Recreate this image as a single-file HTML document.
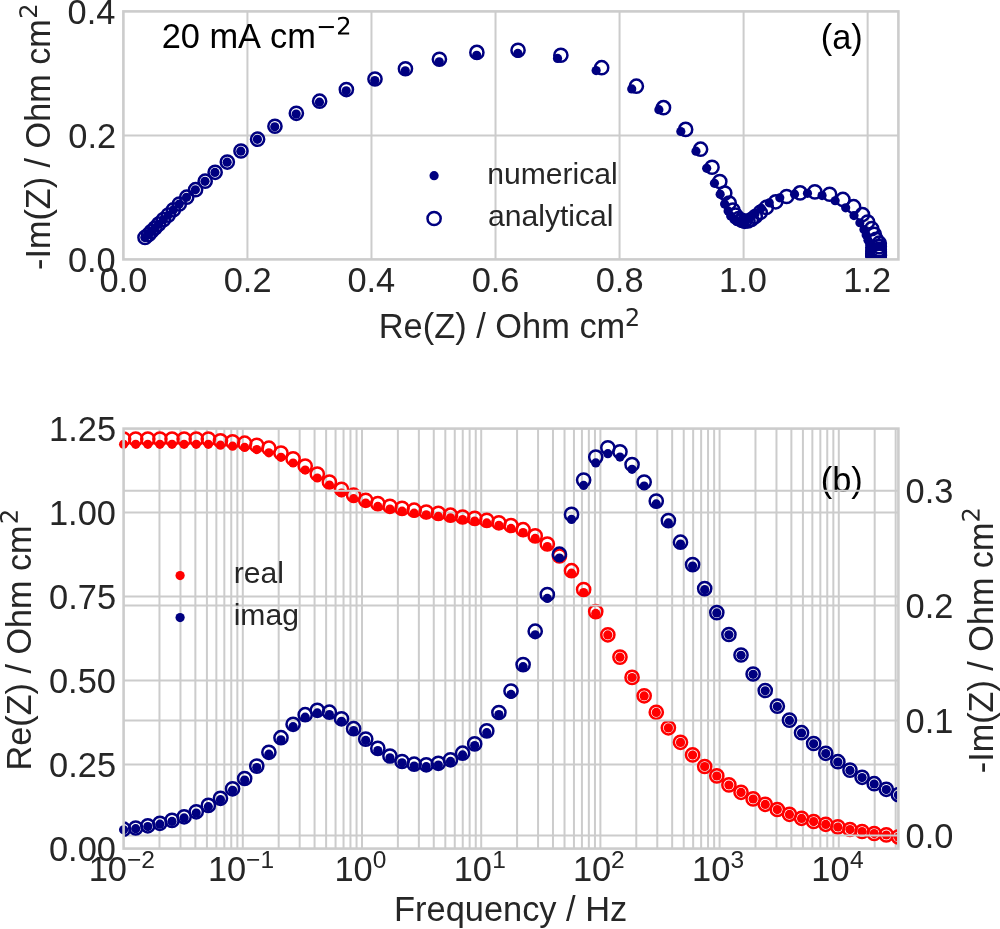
<!DOCTYPE html>
<html><head><meta charset="utf-8"><style>
html,body{margin:0;padding:0;background:#fff;width:1000px;height:929px;overflow:hidden;position:relative}
#wrap{position:absolute;left:0;top:0;width:1000px;height:929px;will-change:transform}
</style></head><body>
<div id="wrap">
<svg width="1000" height="929" viewBox="0 0 1000 929" style="position:absolute;left:0;top:0">
<defs>
<clipPath id="ca"><rect x="123.4" y="11.4" width="775.0" height="247.99999999999997"/></clipPath>
<clipPath id="cbc"><rect x="123.6" y="428.6" width="773.8" height="420.0"/></clipPath>
<clipPath id="cbd"><rect x="100" y="428.6" width="797.4" height="420.0"/></clipPath>
</defs>
<path d="M247.44 11.4V259.4M371.48 11.4V259.4M495.52 11.4V259.4M619.56 11.4V259.4M743.60 11.4V259.4M867.64 11.4V259.4M123.4 135.40H898.4" stroke="#cccccc" stroke-width="2.0" fill="none"/>
<g clip-path="url(#ca)">
<g fill="none" stroke="#000080" stroke-width="2.5">
<circle cx="879.27" cy="256.05" r="6.6"/>
<circle cx="879.27" cy="255.41" r="6.6"/>
<circle cx="879.27" cy="254.22" r="6.6"/>
<circle cx="879.27" cy="252.87" r="6.6"/>
<circle cx="879.27" cy="251.31" r="6.6"/>
<circle cx="879.27" cy="249.36" r="6.6"/>
<circle cx="879.27" cy="246.67" r="6.6"/>
<circle cx="879.27" cy="243.21" r="6.6"/>
<circle cx="876.13" cy="239.38" r="6.6"/>
<circle cx="874.29" cy="234.25" r="6.6"/>
<circle cx="871.70" cy="228.70" r="6.6"/>
<circle cx="867.64" cy="222.01" r="6.6"/>
<circle cx="862.47" cy="214.56" r="6.6"/>
<circle cx="853.61" cy="206.68" r="6.6"/>
<circle cx="842.91" cy="199.45" r="6.6"/>
<circle cx="829.62" cy="194.27" r="6.6"/>
<circle cx="814.85" cy="191.90" r="6.6"/>
<circle cx="800.08" cy="192.92" r="6.6"/>
<circle cx="786.61" cy="196.48" r="6.6"/>
<circle cx="775.72" cy="201.82" r="6.6"/>
<circle cx="766.30" cy="207.44" r="6.6"/>
<circle cx="760.21" cy="212.45" r="6.6"/>
<circle cx="755.23" cy="216.56" r="6.6"/>
<circle cx="751.35" cy="219.52" r="6.6"/>
<circle cx="748.03" cy="220.98" r="6.6"/>
<circle cx="744.71" cy="221.30" r="6.6"/>
<circle cx="742.12" cy="220.49" r="6.6"/>
<circle cx="738.80" cy="218.61" r="6.6"/>
<circle cx="735.48" cy="215.04" r="6.6"/>
<circle cx="732.89" cy="210.03" r="6.6"/>
<circle cx="729.20" cy="203.01" r="6.6"/>
<circle cx="724.77" cy="193.08" r="6.6"/>
<circle cx="719.79" cy="181.48" r="6.6"/>
<circle cx="712.04" cy="167.24" r="6.6"/>
<circle cx="700.59" cy="149.21" r="6.6"/>
<circle cx="685.64" cy="129.41" r="6.6"/>
<circle cx="663.49" cy="107.66" r="6.6"/>
<circle cx="636.36" cy="86.19" r="6.6"/>
<circle cx="601.66" cy="67.68" r="6.6"/>
<circle cx="560.86" cy="55.27" r="6.6"/>
<circle cx="518.04" cy="50.25" r="6.6"/>
<circle cx="476.88" cy="52.41" r="6.6"/>
<circle cx="439.41" cy="59.26" r="6.6"/>
<circle cx="405.44" cy="68.76" r="6.6"/>
<circle cx="374.99" cy="79.01" r="6.6"/>
<circle cx="346.38" cy="89.53" r="6.6"/>
<circle cx="319.61" cy="101.19" r="6.6"/>
<circle cx="296.35" cy="113.28" r="6.6"/>
<circle cx="274.94" cy="126.23" r="6.6"/>
<circle cx="257.59" cy="139.18" r="6.6"/>
<circle cx="240.98" cy="150.99" r="6.6"/>
<circle cx="227.32" cy="162.06" r="6.6"/>
<circle cx="215.14" cy="172.31" r="6.6"/>
<circle cx="205.17" cy="181.21" r="6.6"/>
<circle cx="195.57" cy="189.68" r="6.6"/>
<circle cx="186.71" cy="197.18" r="6.6"/>
<circle cx="179.33" cy="203.98" r="6.6"/>
<circle cx="173.42" cy="209.81" r="6.6"/>
<circle cx="168.25" cy="215.10" r="6.6"/>
<circle cx="163.45" cy="219.63" r="6.6"/>
<circle cx="158.66" cy="224.16" r="6.6"/>
<circle cx="154.96" cy="228.05" r="6.6"/>
<circle cx="151.27" cy="231.50" r="6.6"/>
<circle cx="148.69" cy="234.52" r="6.6"/>
<circle cx="145.00" cy="237.44" r="6.6"/>
</g>
<g fill="#000080">
<circle cx="869.67" cy="256.38" r="4.6"/>
<circle cx="869.67" cy="255.78" r="4.6"/>
<circle cx="869.67" cy="254.65" r="4.6"/>
<circle cx="869.67" cy="253.36" r="4.6"/>
<circle cx="869.67" cy="251.85" r="4.6"/>
<circle cx="869.67" cy="249.96" r="4.6"/>
<circle cx="869.67" cy="247.31" r="4.6"/>
<circle cx="869.67" cy="243.91" r="4.6"/>
<circle cx="868.01" cy="240.14" r="4.6"/>
<circle cx="866.16" cy="235.06" r="4.6"/>
<circle cx="863.95" cy="229.56" r="4.6"/>
<circle cx="859.89" cy="222.76" r="4.6"/>
<circle cx="853.98" cy="215.58" r="4.6"/>
<circle cx="845.67" cy="207.81" r="4.6"/>
<circle cx="835.15" cy="200.75" r="4.6"/>
<circle cx="822.05" cy="195.62" r="4.6"/>
<circle cx="807.47" cy="193.30" r="4.6"/>
<circle cx="794.55" cy="194.22" r="4.6"/>
<circle cx="779.78" cy="197.83" r="4.6"/>
<circle cx="769.26" cy="202.80" r="4.6"/>
<circle cx="761.14" cy="208.14" r="4.6"/>
<circle cx="755.04" cy="213.64" r="4.6"/>
<circle cx="750.25" cy="217.53" r="4.6"/>
<circle cx="746.18" cy="220.23" r="4.6"/>
<circle cx="742.49" cy="221.95" r="4.6"/>
<circle cx="739.54" cy="222.33" r="4.6"/>
<circle cx="736.59" cy="221.41" r="4.6"/>
<circle cx="734.00" cy="219.47" r="4.6"/>
<circle cx="730.68" cy="215.96" r="4.6"/>
<circle cx="728.10" cy="210.89" r="4.6"/>
<circle cx="724.59" cy="203.98" r="4.6"/>
<circle cx="720.16" cy="194.16" r="4.6"/>
<circle cx="714.44" cy="183.32" r="4.6"/>
<circle cx="706.68" cy="168.37" r="4.6"/>
<circle cx="695.98" cy="151.16" r="4.6"/>
<circle cx="680.84" cy="131.51" r="4.6"/>
<circle cx="658.88" cy="109.72" r="4.6"/>
<circle cx="631.74" cy="88.89" r="4.6"/>
<circle cx="596.12" cy="70.54" r="4.6"/>
<circle cx="557.54" cy="58.40" r="4.6"/>
<circle cx="517.85" cy="53.43" r="4.6"/>
<circle cx="476.69" cy="55.27" r="4.6"/>
<circle cx="439.22" cy="61.85" r="4.6"/>
<circle cx="405.26" cy="70.86" r="4.6"/>
<circle cx="374.80" cy="80.52" r="4.6"/>
<circle cx="346.19" cy="90.78" r="4.6"/>
<circle cx="319.43" cy="102.16" r="4.6"/>
<circle cx="296.17" cy="114.03" r="4.6"/>
<circle cx="274.76" cy="126.82" r="4.6"/>
<circle cx="257.41" cy="139.34" r="4.6"/>
<circle cx="240.80" cy="151.16" r="4.6"/>
<circle cx="227.14" cy="162.22" r="4.6"/>
<circle cx="214.95" cy="172.47" r="4.6"/>
<circle cx="204.99" cy="181.37" r="4.6"/>
<circle cx="195.39" cy="189.85" r="4.6"/>
<circle cx="186.53" cy="197.35" r="4.6"/>
<circle cx="179.14" cy="204.14" r="4.6"/>
<circle cx="173.24" cy="209.97" r="4.6"/>
<circle cx="168.07" cy="215.26" r="4.6"/>
<circle cx="163.27" cy="219.79" r="4.6"/>
<circle cx="158.47" cy="224.33" r="4.6"/>
<circle cx="154.78" cy="228.21" r="4.6"/>
<circle cx="151.09" cy="231.66" r="4.6"/>
<circle cx="148.50" cy="234.69" r="4.6"/>
<circle cx="144.81" cy="237.60" r="4.6"/>
</g></g>
<rect x="123.4" y="11.4" width="775.0" height="247.99999999999997" fill="none" stroke="#cccccc" stroke-width="2.6"/>
<g font-family='"Liberation Sans", sans-serif'>
<text x="99.49" y="291.60" font-size="34.4" fill="#262626">0.0</text>
<text x="223.72" y="291.60" font-size="34.4" fill="#262626">0.2</text>
<text x="347.40" y="291.60" font-size="34.4" fill="#262626">0.4</text>
<text x="471.69" y="291.60" font-size="34.4" fill="#262626">0.6</text>
<text x="595.73" y="291.60" font-size="34.4" fill="#262626">0.8</text>
<text x="719.05" y="291.60" font-size="34.4" fill="#262626">1.0</text>
<text x="843.28" y="291.60" font-size="34.4" fill="#262626">1.2</text>
<text x="67.92" y="272.20" font-size="34.4" fill="#262626">0.0</text>
<text x="68.31" y="148.20" font-size="34.4" fill="#262626">0.2</text>
<text x="67.59" y="24.20" font-size="34.4" fill="#262626">0.4</text>
<text x="378.78" y="338.30" font-size="34.4" fill="#262626" >Re(Z) / Ohm cm</text>
<path d="M393 170H1098V0H150V170Q265 289 463.5 489.5Q662 690 713 748Q810 857 848.5 932.5Q887 1008 887 1081Q887 1200 803.5 1275.0Q720 1350 586 1350Q491 1350 385.5 1317.0Q280 1284 160 1217V1421Q282 1470 388.0 1495.0Q494 1520 582 1520Q814 1520 952.0 1404.0Q1090 1288 1090 1094Q1090 1002 1055.5 919.5Q1021 837 930 725Q905 696 771.0 557.5Q637 419 393 170Z" transform="translate(624.835,325.900) scale(0.01177,-0.01177)" fill="#262626"/>
<text transform="translate(49.90,269.92) rotate(-90)" font-size="34.2" fill="#262626">-Im(Z) / Ohm cm</text>
<path d="M393 170H1098V0H150V170Q265 289 463.5 489.5Q662 690 713 748Q810 857 848.5 932.5Q887 1008 887 1081Q887 1200 803.5 1275.0Q720 1350 586 1350Q491 1350 385.5 1317.0Q280 1284 160 1217V1421Q282 1470 388.0 1495.0Q494 1520 582 1520Q814 1520 952.0 1404.0Q1090 1288 1090 1094Q1090 1002 1055.5 919.5Q1021 837 930 725Q905 696 771.0 557.5Q637 419 393 170Z" transform="translate(37.000,18.765) rotate(-90) scale(0.01177,-0.01177)" fill="#262626"/>
<text x="161.67" y="47.80" font-size="34.4" fill="#000" >20 mA</text>
<text x="270.04" y="47.80" font-size="34.4" fill="#000" >cm</text>
<path d="M217 727H1499V557H217Z" transform="translate(316.246,34.600) scale(0.01177,-0.01177)" fill="#000"/>
<path d="M393 170H1098V0H150V170Q265 289 463.5 489.5Q662 690 713 748Q810 857 848.5 932.5Q887 1008 887 1081Q887 1200 803.5 1275.0Q720 1350 586 1350Q491 1350 385.5 1317.0Q280 1284 160 1217V1421Q282 1470 388.0 1495.0Q494 1520 582 1520Q814 1520 952.0 1404.0Q1090 1288 1090 1094Q1090 1002 1055.5 919.5Q1021 837 930 725Q905 696 771.0 557.5Q637 419 393 170Z" transform="translate(336.235,34.600) scale(0.01177,-0.01177)" fill="#000"/>
<text x="820.77" y="48.70" font-size="34.4" fill="#000" >(a)</text>
<circle cx="434.1" cy="175.7" r="4.6" fill="#000080"/>
<circle cx="434.1" cy="218.5" r="6.6" fill="#fff" stroke="#000080" stroke-width="2.5"/>
<text x="487.30" y="183.60" font-size="30.1" fill="#262626" >numerical</text>
<text x="488.02" y="225.60" font-size="30.1" fill="#262626" >analytical</text>
</g>
<path d="M159.48 428.6V848.6M180.47 428.6V848.6M195.37 428.6V848.6M206.92 428.6V848.6M216.36 428.6V848.6M224.34 428.6V848.6M231.25 428.6V848.6M237.35 428.6V848.6M242.80 428.6V848.6M278.68 428.6V848.6M299.67 428.6V848.6M314.57 428.6V848.6M326.12 428.6V848.6M335.56 428.6V848.6M343.54 428.6V848.6M350.45 428.6V848.6M356.55 428.6V848.6M362.00 428.6V848.6M397.88 428.6V848.6M418.87 428.6V848.6M433.77 428.6V848.6M445.32 428.6V848.6M454.76 428.6V848.6M462.74 428.6V848.6M469.65 428.6V848.6M475.75 428.6V848.6M481.20 428.6V848.6M517.08 428.6V848.6M538.07 428.6V848.6M552.97 428.6V848.6M564.52 428.6V848.6M573.96 428.6V848.6M581.94 428.6V848.6M588.85 428.6V848.6M594.95 428.6V848.6M600.40 428.6V848.6M636.28 428.6V848.6M657.27 428.6V848.6M672.17 428.6V848.6M683.72 428.6V848.6M693.16 428.6V848.6M701.14 428.6V848.6M708.05 428.6V848.6M714.15 428.6V848.6M719.60 428.6V848.6M755.48 428.6V848.6M776.47 428.6V848.6M791.37 428.6V848.6M802.92 428.6V848.6M812.36 428.6V848.6M820.34 428.6V848.6M827.25 428.6V848.6M833.35 428.6V848.6M838.80 428.6V848.6M874.68 428.6V848.6M895.67 428.6V848.6M123.6 764.60H898.4M123.6 680.60H898.4M123.6 596.60H898.4M123.6 512.60H898.4" stroke="#cccccc" stroke-width="2.0" fill="none"/>
<g clip-path="url(#cbc)" fill="none" stroke="#ff0000" stroke-width="2.5">
<circle cx="123.60" cy="439.10" r="6.6"/>
<circle cx="135.71" cy="439.10" r="6.6"/>
<circle cx="147.81" cy="439.10" r="6.6"/>
<circle cx="159.92" cy="439.10" r="6.6"/>
<circle cx="172.02" cy="439.10" r="6.6"/>
<circle cx="184.13" cy="439.10" r="6.6"/>
<circle cx="196.24" cy="439.10" r="6.6"/>
<circle cx="208.34" cy="439.10" r="6.6"/>
<circle cx="220.45" cy="440.80" r="6.6"/>
<circle cx="232.56" cy="441.80" r="6.6"/>
<circle cx="244.66" cy="443.20" r="6.6"/>
<circle cx="256.77" cy="445.40" r="6.6"/>
<circle cx="268.88" cy="448.20" r="6.6"/>
<circle cx="280.98" cy="453.00" r="6.6"/>
<circle cx="293.09" cy="458.80" r="6.6"/>
<circle cx="305.19" cy="466.00" r="6.6"/>
<circle cx="317.30" cy="474.00" r="6.6"/>
<circle cx="329.41" cy="482.00" r="6.6"/>
<circle cx="341.51" cy="489.30" r="6.6"/>
<circle cx="353.62" cy="495.20" r="6.6"/>
<circle cx="365.72" cy="500.30" r="6.6"/>
<circle cx="377.83" cy="503.60" r="6.6"/>
<circle cx="389.94" cy="506.30" r="6.6"/>
<circle cx="402.04" cy="508.40" r="6.6"/>
<circle cx="414.15" cy="510.20" r="6.6"/>
<circle cx="426.26" cy="512.00" r="6.6"/>
<circle cx="438.36" cy="513.40" r="6.6"/>
<circle cx="450.47" cy="515.20" r="6.6"/>
<circle cx="462.57" cy="517.00" r="6.6"/>
<circle cx="474.68" cy="518.40" r="6.6"/>
<circle cx="486.79" cy="520.40" r="6.6"/>
<circle cx="498.89" cy="522.80" r="6.6"/>
<circle cx="511.00" cy="525.50" r="6.6"/>
<circle cx="523.11" cy="529.70" r="6.6"/>
<circle cx="535.21" cy="535.90" r="6.6"/>
<circle cx="547.32" cy="544.00" r="6.6"/>
<circle cx="559.42" cy="556.00" r="6.6"/>
<circle cx="571.53" cy="570.70" r="6.6"/>
<circle cx="583.64" cy="589.50" r="6.6"/>
<circle cx="595.74" cy="611.60" r="6.6"/>
<circle cx="607.85" cy="634.80" r="6.6"/>
<circle cx="619.96" cy="657.10" r="6.6"/>
<circle cx="632.06" cy="677.40" r="6.6"/>
<circle cx="644.17" cy="695.80" r="6.6"/>
<circle cx="656.27" cy="712.30" r="6.6"/>
<circle cx="668.38" cy="727.80" r="6.6"/>
<circle cx="680.49" cy="742.30" r="6.6"/>
<circle cx="692.59" cy="754.90" r="6.6"/>
<circle cx="704.70" cy="766.50" r="6.6"/>
<circle cx="716.81" cy="775.90" r="6.6"/>
<circle cx="728.91" cy="784.90" r="6.6"/>
<circle cx="741.02" cy="792.30" r="6.6"/>
<circle cx="753.12" cy="798.90" r="6.6"/>
<circle cx="765.23" cy="804.30" r="6.6"/>
<circle cx="777.34" cy="809.50" r="6.6"/>
<circle cx="789.44" cy="814.30" r="6.6"/>
<circle cx="801.55" cy="818.30" r="6.6"/>
<circle cx="813.66" cy="821.50" r="6.6"/>
<circle cx="825.76" cy="824.30" r="6.6"/>
<circle cx="837.87" cy="826.90" r="6.6"/>
<circle cx="849.97" cy="829.50" r="6.6"/>
<circle cx="862.08" cy="831.50" r="6.6"/>
<circle cx="874.19" cy="833.50" r="6.6"/>
<circle cx="886.29" cy="834.90" r="6.6"/>
<circle cx="898.40" cy="836.90" r="6.6"/>
</g>
<g clip-path="url(#cbd)" fill="#ff0000">
<circle cx="123.60" cy="444.30" r="4.6"/>
<circle cx="135.71" cy="444.30" r="4.6"/>
<circle cx="147.81" cy="444.30" r="4.6"/>
<circle cx="159.92" cy="444.30" r="4.6"/>
<circle cx="172.02" cy="444.30" r="4.6"/>
<circle cx="184.13" cy="444.30" r="4.6"/>
<circle cx="196.24" cy="444.30" r="4.6"/>
<circle cx="208.34" cy="444.30" r="4.6"/>
<circle cx="220.45" cy="445.20" r="4.6"/>
<circle cx="232.56" cy="446.20" r="4.6"/>
<circle cx="244.66" cy="447.40" r="4.6"/>
<circle cx="256.77" cy="449.60" r="4.6"/>
<circle cx="268.88" cy="452.80" r="4.6"/>
<circle cx="280.98" cy="457.30" r="4.6"/>
<circle cx="293.09" cy="463.00" r="4.6"/>
<circle cx="305.19" cy="470.10" r="4.6"/>
<circle cx="317.30" cy="478.00" r="4.6"/>
<circle cx="329.41" cy="485.00" r="4.6"/>
<circle cx="341.51" cy="493.00" r="4.6"/>
<circle cx="353.62" cy="498.70" r="4.6"/>
<circle cx="365.72" cy="503.10" r="4.6"/>
<circle cx="377.83" cy="506.40" r="4.6"/>
<circle cx="389.94" cy="509.00" r="4.6"/>
<circle cx="402.04" cy="511.20" r="4.6"/>
<circle cx="414.15" cy="513.20" r="4.6"/>
<circle cx="426.26" cy="514.80" r="4.6"/>
<circle cx="438.36" cy="516.40" r="4.6"/>
<circle cx="450.47" cy="517.80" r="4.6"/>
<circle cx="462.57" cy="519.60" r="4.6"/>
<circle cx="474.68" cy="521.00" r="4.6"/>
<circle cx="486.79" cy="522.90" r="4.6"/>
<circle cx="498.89" cy="525.30" r="4.6"/>
<circle cx="511.00" cy="528.40" r="4.6"/>
<circle cx="523.11" cy="532.60" r="4.6"/>
<circle cx="535.21" cy="538.40" r="4.6"/>
<circle cx="547.32" cy="546.60" r="4.6"/>
<circle cx="559.42" cy="558.50" r="4.6"/>
<circle cx="571.53" cy="573.20" r="4.6"/>
<circle cx="583.64" cy="592.50" r="4.6"/>
<circle cx="595.74" cy="613.40" r="4.6"/>
<circle cx="607.85" cy="634.90" r="4.6"/>
<circle cx="619.96" cy="657.20" r="4.6"/>
<circle cx="632.06" cy="677.50" r="4.6"/>
<circle cx="644.17" cy="695.90" r="4.6"/>
<circle cx="656.27" cy="712.40" r="4.6"/>
<circle cx="668.38" cy="727.90" r="4.6"/>
<circle cx="680.49" cy="742.40" r="4.6"/>
<circle cx="692.59" cy="755.00" r="4.6"/>
<circle cx="704.70" cy="766.60" r="4.6"/>
<circle cx="716.81" cy="776.00" r="4.6"/>
<circle cx="728.91" cy="785.00" r="4.6"/>
<circle cx="741.02" cy="792.40" r="4.6"/>
<circle cx="753.12" cy="799.00" r="4.6"/>
<circle cx="765.23" cy="804.40" r="4.6"/>
<circle cx="777.34" cy="809.60" r="4.6"/>
<circle cx="789.44" cy="814.40" r="4.6"/>
<circle cx="801.55" cy="818.40" r="4.6"/>
<circle cx="813.66" cy="821.60" r="4.6"/>
<circle cx="825.76" cy="824.40" r="4.6"/>
<circle cx="837.87" cy="827.00" r="4.6"/>
<circle cx="849.97" cy="829.60" r="4.6"/>
<circle cx="862.08" cy="831.60" r="4.6"/>
<circle cx="874.19" cy="833.60" r="4.6"/>
<circle cx="886.29" cy="835.00" r="4.6"/>
<circle cx="898.40" cy="837.00" r="4.6"/>
</g>
<g font-family='"Liberation Sans", sans-serif'><text x="820.77" y="492.10" font-size="34.4" fill="#000" >(b)</text></g>
<path d="M123.6 835.40H898.4M123.6 720.50H898.4M123.6 605.60H898.4M123.6 490.70H898.4" stroke="#cccccc" stroke-width="2.0" fill="none"/>
<g clip-path="url(#cbc)" fill="none" stroke="#000080" stroke-width="2.5">
<circle cx="123.60" cy="829.20" r="6.6"/>
<circle cx="135.71" cy="828.00" r="6.6"/>
<circle cx="147.81" cy="825.80" r="6.6"/>
<circle cx="159.92" cy="823.30" r="6.6"/>
<circle cx="172.02" cy="820.40" r="6.6"/>
<circle cx="184.13" cy="816.80" r="6.6"/>
<circle cx="196.24" cy="811.80" r="6.6"/>
<circle cx="208.34" cy="805.40" r="6.6"/>
<circle cx="220.45" cy="798.30" r="6.6"/>
<circle cx="232.56" cy="788.80" r="6.6"/>
<circle cx="244.66" cy="778.50" r="6.6"/>
<circle cx="256.77" cy="766.10" r="6.6"/>
<circle cx="268.88" cy="752.30" r="6.6"/>
<circle cx="280.98" cy="737.70" r="6.6"/>
<circle cx="293.09" cy="724.30" r="6.6"/>
<circle cx="305.19" cy="714.70" r="6.6"/>
<circle cx="317.30" cy="710.30" r="6.6"/>
<circle cx="329.41" cy="712.20" r="6.6"/>
<circle cx="341.51" cy="718.80" r="6.6"/>
<circle cx="353.62" cy="728.70" r="6.6"/>
<circle cx="365.72" cy="739.10" r="6.6"/>
<circle cx="377.83" cy="748.40" r="6.6"/>
<circle cx="389.94" cy="756.00" r="6.6"/>
<circle cx="402.04" cy="761.50" r="6.6"/>
<circle cx="414.15" cy="764.20" r="6.6"/>
<circle cx="426.26" cy="764.80" r="6.6"/>
<circle cx="438.36" cy="763.30" r="6.6"/>
<circle cx="450.47" cy="759.80" r="6.6"/>
<circle cx="462.57" cy="753.20" r="6.6"/>
<circle cx="474.68" cy="743.90" r="6.6"/>
<circle cx="486.79" cy="730.90" r="6.6"/>
<circle cx="498.89" cy="712.50" r="6.6"/>
<circle cx="511.00" cy="691.00" r="6.6"/>
<circle cx="523.11" cy="664.60" r="6.6"/>
<circle cx="535.21" cy="631.20" r="6.6"/>
<circle cx="547.32" cy="594.50" r="6.6"/>
<circle cx="559.42" cy="554.20" r="6.6"/>
<circle cx="571.53" cy="514.40" r="6.6"/>
<circle cx="583.64" cy="480.10" r="6.6"/>
<circle cx="595.74" cy="457.10" r="6.6"/>
<circle cx="607.85" cy="447.80" r="6.6"/>
<circle cx="619.96" cy="451.80" r="6.6"/>
<circle cx="632.06" cy="464.50" r="6.6"/>
<circle cx="644.17" cy="482.10" r="6.6"/>
<circle cx="656.27" cy="501.10" r="6.6"/>
<circle cx="668.38" cy="520.60" r="6.6"/>
<circle cx="680.49" cy="542.20" r="6.6"/>
<circle cx="692.59" cy="564.60" r="6.6"/>
<circle cx="704.70" cy="588.60" r="6.6"/>
<circle cx="716.81" cy="612.60" r="6.6"/>
<circle cx="728.91" cy="634.50" r="6.6"/>
<circle cx="741.02" cy="655.00" r="6.6"/>
<circle cx="753.12" cy="674.00" r="6.6"/>
<circle cx="765.23" cy="690.50" r="6.6"/>
<circle cx="777.34" cy="706.20" r="6.6"/>
<circle cx="789.44" cy="720.10" r="6.6"/>
<circle cx="801.55" cy="732.70" r="6.6"/>
<circle cx="813.66" cy="743.50" r="6.6"/>
<circle cx="825.76" cy="753.30" r="6.6"/>
<circle cx="837.87" cy="761.70" r="6.6"/>
<circle cx="849.97" cy="770.10" r="6.6"/>
<circle cx="862.08" cy="777.30" r="6.6"/>
<circle cx="874.19" cy="783.70" r="6.6"/>
<circle cx="886.29" cy="789.30" r="6.6"/>
<circle cx="898.40" cy="794.70" r="6.6"/>
</g>
<g clip-path="url(#cbd)" fill="#000080">
<circle cx="123.60" cy="829.80" r="4.6"/>
<circle cx="135.71" cy="828.70" r="4.6"/>
<circle cx="147.81" cy="826.60" r="4.6"/>
<circle cx="159.92" cy="824.20" r="4.6"/>
<circle cx="172.02" cy="821.40" r="4.6"/>
<circle cx="184.13" cy="817.90" r="4.6"/>
<circle cx="196.24" cy="813.00" r="4.6"/>
<circle cx="208.34" cy="806.70" r="4.6"/>
<circle cx="220.45" cy="799.70" r="4.6"/>
<circle cx="232.56" cy="790.30" r="4.6"/>
<circle cx="244.66" cy="780.10" r="4.6"/>
<circle cx="256.77" cy="767.50" r="4.6"/>
<circle cx="268.88" cy="754.20" r="4.6"/>
<circle cx="280.98" cy="739.80" r="4.6"/>
<circle cx="293.09" cy="726.70" r="4.6"/>
<circle cx="305.19" cy="717.20" r="4.6"/>
<circle cx="317.30" cy="712.90" r="4.6"/>
<circle cx="329.41" cy="714.60" r="4.6"/>
<circle cx="341.51" cy="721.30" r="4.6"/>
<circle cx="353.62" cy="730.50" r="4.6"/>
<circle cx="365.72" cy="740.40" r="4.6"/>
<circle cx="377.83" cy="750.60" r="4.6"/>
<circle cx="389.94" cy="757.80" r="4.6"/>
<circle cx="402.04" cy="762.80" r="4.6"/>
<circle cx="414.15" cy="766.00" r="4.6"/>
<circle cx="426.26" cy="766.70" r="4.6"/>
<circle cx="438.36" cy="765.00" r="4.6"/>
<circle cx="450.47" cy="761.40" r="4.6"/>
<circle cx="462.57" cy="754.90" r="4.6"/>
<circle cx="474.68" cy="745.50" r="4.6"/>
<circle cx="486.79" cy="732.70" r="4.6"/>
<circle cx="498.89" cy="714.50" r="4.6"/>
<circle cx="511.00" cy="694.40" r="4.6"/>
<circle cx="523.11" cy="666.70" r="4.6"/>
<circle cx="535.21" cy="634.80" r="4.6"/>
<circle cx="547.32" cy="598.40" r="4.6"/>
<circle cx="559.42" cy="558.00" r="4.6"/>
<circle cx="571.53" cy="519.40" r="4.6"/>
<circle cx="583.64" cy="485.40" r="4.6"/>
<circle cx="595.74" cy="462.90" r="4.6"/>
<circle cx="607.85" cy="453.70" r="4.6"/>
<circle cx="619.96" cy="457.10" r="4.6"/>
<circle cx="632.06" cy="469.30" r="4.6"/>
<circle cx="644.17" cy="486.00" r="4.6"/>
<circle cx="656.27" cy="503.90" r="4.6"/>
<circle cx="668.38" cy="522.90" r="4.6"/>
<circle cx="680.49" cy="544.00" r="4.6"/>
<circle cx="692.59" cy="566.00" r="4.6"/>
<circle cx="704.70" cy="589.70" r="4.6"/>
<circle cx="716.81" cy="612.90" r="4.6"/>
<circle cx="728.91" cy="634.80" r="4.6"/>
<circle cx="741.02" cy="655.30" r="4.6"/>
<circle cx="753.12" cy="674.30" r="4.6"/>
<circle cx="765.23" cy="690.80" r="4.6"/>
<circle cx="777.34" cy="706.50" r="4.6"/>
<circle cx="789.44" cy="720.40" r="4.6"/>
<circle cx="801.55" cy="733.00" r="4.6"/>
<circle cx="813.66" cy="743.80" r="4.6"/>
<circle cx="825.76" cy="753.60" r="4.6"/>
<circle cx="837.87" cy="762.00" r="4.6"/>
<circle cx="849.97" cy="770.40" r="4.6"/>
<circle cx="862.08" cy="777.60" r="4.6"/>
<circle cx="874.19" cy="784.00" r="4.6"/>
<circle cx="886.29" cy="789.60" r="4.6"/>
<circle cx="898.40" cy="795.00" r="4.6"/>
</g>
<rect x="123.6" y="428.6" width="774.8" height="420.0" fill="none" stroke="#cccccc" stroke-width="2.6"/>
<circle cx="180.1" cy="575.6" r="4.6" fill="#ff0000"/>
<circle cx="180.1" cy="617.6" r="4.6" fill="#000080"/>
<g font-family='"Liberation Sans", sans-serif'>
<text x="233.70" y="583.40" font-size="30.1" fill="#262626" >real</text>
<text x="233.69" y="625.00" font-size="30.1" fill="#262626" >imag</text>
<text x="48.99" y="861.10" font-size="34.4" fill="#262626">0.00</text>
<text x="49.09" y="777.10" font-size="34.4" fill="#262626">0.25</text>
<text x="48.99" y="693.10" font-size="34.4" fill="#262626">0.50</text>
<text x="49.09" y="609.10" font-size="34.4" fill="#262626">0.75</text>
<text x="48.99" y="525.10" font-size="34.4" fill="#262626">1.00</text>
<text x="49.09" y="441.10" font-size="34.4" fill="#262626">1.25</text>
<text x="905.56" y="847.90" font-size="34.4" fill="#262626" >0.0</text>
<text x="905.56" y="733.00" font-size="34.4" fill="#262626" >0.1</text>
<text x="905.56" y="618.10" font-size="34.4" fill="#262626" >0.2</text>
<text x="905.56" y="503.20" font-size="34.4" fill="#262626" >0.3</text>
<text x="88.68" y="880.50" font-size="34.4" fill="#262626" >10</text>
<text x="126.89" y="868.30" font-size="24.5" fill="#262626" >−2</text>
<text x="207.88" y="880.50" font-size="34.4" fill="#262626" >10</text>
<text x="246.09" y="868.30" font-size="24.5" fill="#262626" >−1</text>
<text x="334.48" y="880.50" font-size="34.4" fill="#262626" >10</text>
<text x="372.64" y="868.30" font-size="24.5" fill="#262626" >0</text>
<text x="453.68" y="880.50" font-size="34.4" fill="#262626" >10</text>
<text x="492.33" y="868.30" font-size="24.5" fill="#262626" >1</text>
<text x="572.88" y="880.50" font-size="34.4" fill="#262626" >10</text>
<text x="610.97" y="868.30" font-size="24.5" fill="#262626" >2</text>
<text x="692.08" y="880.50" font-size="34.4" fill="#262626" >10</text>
<text x="730.47" y="868.30" font-size="24.5" fill="#262626" >3</text>
<text x="811.28" y="880.50" font-size="34.4" fill="#262626" >10</text>
<text x="850.04" y="868.30" font-size="24.5" fill="#262626" >4</text>
<text x="394.08" y="920.90" font-size="34.4" fill="#262626" >Frequency / Hz</text>
<text transform="translate(30.90,770.41) rotate(-90)" font-size="34.2" fill="#262626">Re(Z) / Ohm cm</text>
<path d="M393 170H1098V0H150V170Q265 289 463.5 489.5Q662 690 713 748Q810 857 848.5 932.5Q887 1008 887 1081Q887 1200 803.5 1275.0Q720 1350 586 1350Q491 1350 385.5 1317.0Q280 1284 160 1217V1421Q282 1470 388.0 1495.0Q494 1520 582 1520Q814 1520 952.0 1404.0Q1090 1288 1090 1094Q1090 1002 1055.5 919.5Q1021 837 930 725Q905 696 771.0 557.5Q637 419 393 170Z" transform="translate(17.800,524.165) rotate(-90) scale(0.01177,-0.01177)" fill="#262626"/>
<text transform="translate(992.80,773.22) rotate(-90)" font-size="34.2" fill="#262626">-Im(Z) / Ohm cm</text>
<path d="M393 170H1098V0H150V170Q265 289 463.5 489.5Q662 690 713 748Q810 857 848.5 932.5Q887 1008 887 1081Q887 1200 803.5 1275.0Q720 1350 586 1350Q491 1350 385.5 1317.0Q280 1284 160 1217V1421Q282 1470 388.0 1495.0Q494 1520 582 1520Q814 1520 952.0 1404.0Q1090 1288 1090 1094Q1090 1002 1055.5 919.5Q1021 837 930 725Q905 696 771.0 557.5Q637 419 393 170Z" transform="translate(979.600,522.465) rotate(-90) scale(0.01177,-0.01177)" fill="#262626"/>
</g>
</svg>
</div>
</body></html>
